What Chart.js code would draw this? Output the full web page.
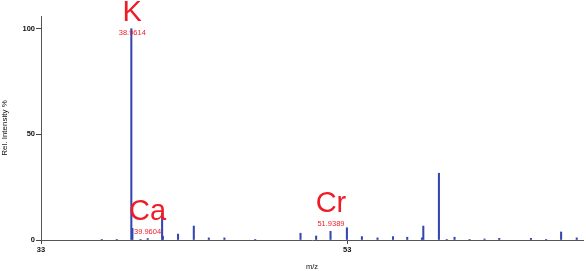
<!DOCTYPE html>
<html>
<head>
<meta charset="utf-8">
<script src="https://cdn.jsdelivr.net/npm/chart.js@4"></script>
<style>
  html, body { margin: 0; padding: 0; background: #fff; }
  #wrap { width: 586px; height: 271px; }
</style>
</head>
<body>
<div id="wrap"><canvas id="spectrum"></canvas></div>
<script>
// peak positions (m/z) and relative intensities (%)
const peakMz = [36.97, 37.95, 38.9, 38.97, 39.5, 39.97, 40.91, 40.96, 41.95, 42.98, 43.96,
  44.98, 46.99, 49.95, 50.97, 51.91, 52.98, 53.96, 54.98, 55.99, 56.92, 57.88, 57.97,
  58.99, 59.5, 60.01, 60.99, 61.97, 62.93, 65.0, 65.99, 66.97, 67.99]
const peakIntensity = [0.3, 0.3, 100, 5.5, 0.3, 0.7, 12.6, 1.8, 2.8, 6.6, 1.0,
  1.0, 0.3, 3.2, 1.9, 4.1, 5.8, 1.6, 1.0, 1.6, 1.3, 1.0, 6.6,
  31.6, 0.3, 1.3, 0.3, 0.5, 0.8, 0.8, 0.3, 3.8, 1.0]

const xTicks = [33, 53]
const yTicks = [0, 50, 100]

// element annotations
const annoElements = ["K", "Ca", "Cr"]
const annoMasses = ["38.9614", "39.9604", "51.9389"]
const annoPeakHeights = [100, 0.7, 4.1]

// draws element symbol + exact mass above the matching peak
const peakLabels = {
  id: "peakLabels",
  afterDatasetsDraw(chart) {
    const { ctx, scales } = chart
    ctx.save()
    ctx.fillStyle = "#ee1c25"
    ctx.textAlign = "center"
    ctx.textBaseline = "middle"
    annoElements.forEach((el, i) => {
      const x = scales.x.getPixelForValue(parseFloat(annoMasses[i]))
      const numY = Math.max(scales.y.getPixelForValue(annoPeakHeights[i]) - 7, 33)
      ctx.font = "7.5px 'Liberation Sans', Arial, sans-serif"
      ctx.fillText(annoMasses[i], x, numY)
      ctx.font = "29px 'Liberation Sans', Arial, sans-serif"
      ctx.fillText(el, x, numY - 20)
    })
    ctx.restore()
  },
}

function createSpectrum() {
  const ctx = document.getElementById("spectrum").getContext("2d")
  new Chart(ctx, {
    type: "bar",
    data: {
      datasets: [
        {
          data: peakMz.map((mz, i) => ({ x: mz, y: peakIntensity[i] })),
          backgroundColor: "#3646b0",
          barThickness: 1.4,
        },
      ],
    },
    options: {
      responsive: false,
      animation: false,
      layout: { padding: { top: 16, right: 3, left: 0, bottom: 0 } },
      plugins: { legend: { display: false }, tooltip: { enabled: false } },
      scales: {
        x: {
          type: "linear",
          min: 33,
          max: 68.4,
          offset: false,
          afterBuildTicks: (s) => { s.ticks = xTicks.map((v) => ({ value: v })) },
          afterFit: (s) => { s.height = 31 },
          grid: { offset: false, drawOnChartArea: false, drawTicks: true, tickLength: 4, color: "#444" },
          border: { display: true, color: "#555" },
          ticks: { color: "#111", padding: 1, maxRotation: 0, font: { size: 7.5, weight: "bold", family: "'Liberation Sans', Arial" } },
          title: { display: true, text: "m/z", color: "#111", padding: { top: 6, bottom: 0 }, font: { size: 7.5, family: "'Liberation Sans', Arial" } },
        },
        y: {
          min: 0,
          max: 106,
          afterBuildTicks: (s) => { s.ticks = yTicks.map((v) => ({ value: v })) },
          afterFit: (s) => { s.width = 41 },
          grid: { drawOnChartArea: false, drawTicks: true, tickLength: 5, color: "#444" },
          border: { display: true, color: "#555" },
          ticks: { color: "#111", padding: 1, font: { size: 7.5, weight: "bold", family: "'Liberation Sans', Arial" } },
          title: { display: true, text: "Rel. Intensity %", color: "#111", padding: 0, font: { size: 8, family: "'Liberation Sans', Arial" } },
        },
      },
    },
    plugins: [peakLabels],
  })
}

const cv = document.getElementById("spectrum")
cv.width = 586
cv.height = 271
createSpectrum()
</script>
</body>
</html>
